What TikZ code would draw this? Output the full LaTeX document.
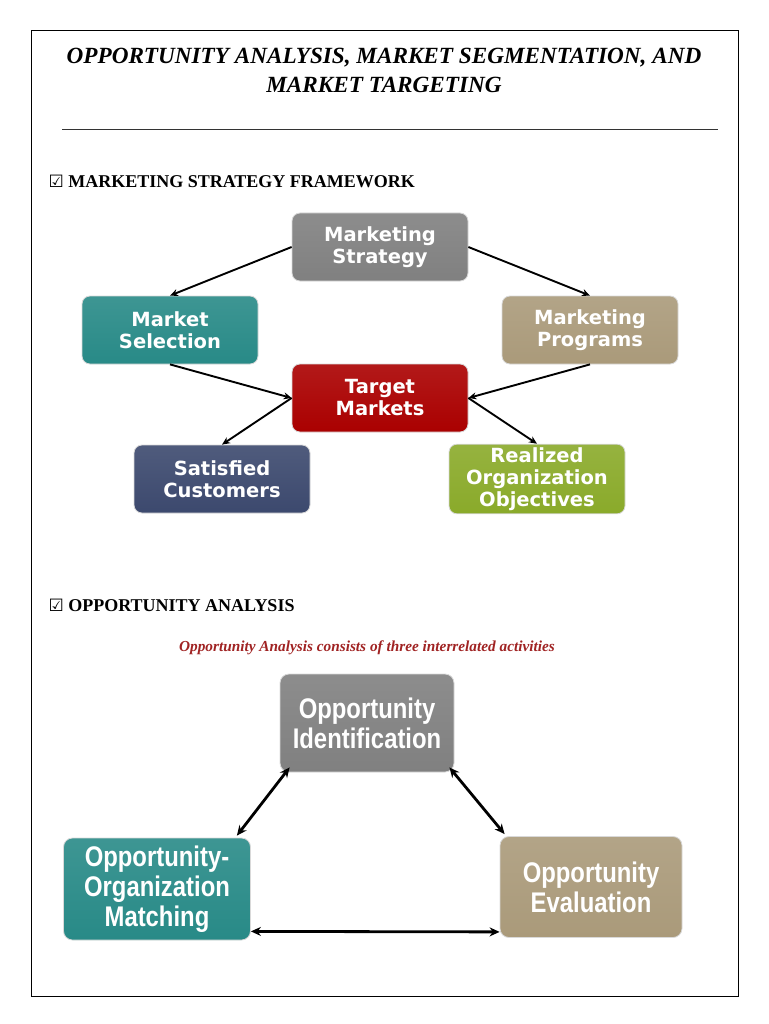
\documentclass[tikz,border=0pt]{standalone}
\usepackage{fontspec}
\setmainfont{Liberation Serif}
\newfontfamily\boxfont{DejaVu Sans}
\newfontfamily\symfont{DejaVu Sans}
\newfontfamily\narrowfont[FakeStretch=0.84]{Liberation Sans}
\usetikzlibrary{arrows.meta,positioning,calc}
\definecolor{msgray}{RGB}{128,128,128}
\definecolor{msteal}{RGB}{40,138,135}
\definecolor{mstan}{RGB}{170,154,122}
\definecolor{msred}{RGB}{170,0,0}
\definecolor{msnavy}{RGB}{60,73,110}
\definecolor{msgreen}{RGB}{138,170,42}
\definecolor{subred}{RGB}{160,35,35}

\begin{document}
\begin{tikzpicture}[x=1pt,y=-1pt,
    fbox/.style={rectangle, rounded corners=8pt, draw=black!15, line width=0.8pt,
      top color=#1!90!white, bottom color=#1, align=center, text=white,
      minimum width=176pt, minimum height=68pt,
      font=\boxfont\bfseries\fontsize{19.5}{22}\selectfont},
    obox/.style={rectangle, rounded corners=9pt, draw=black!15, line width=0.8pt,
      top color=#1!90!white, bottom color=#1, align=center, text=white,
      font=\narrowfont\bfseries\fontsize{28.4}{30}\selectfont},
    link/.style={-{Stealth[length=8pt,width=7pt]}, line width=1.9pt},
    twoway/.style={{Stealth[length=10pt,width=9pt]}-{Stealth[length=10pt,width=9pt]}, line width=2.8pt},
    secthead/.style={anchor=west, font=\bfseries\fontsize{18}{20}\selectfont}]
  \useasboundingbox (0,0) rectangle (768,1024);
  % page frame and heading
  \draw[line width=0.8pt] (31,30) rectangle (738,996);
  \node[align=center, font=\bfseries\itshape\fontsize{23.2}{29}\selectfont] (title) at (384,70)
    {OPPORTUNITY ANALYSIS, MARKET SEGMENTATION, AND\\MARKET TARGETING};
  \draw[line width=0.9pt, black!80] (62,129) -- (718,129);

  % marketing strategy framework
  \node[secthead] (head1) at (45,181) {{\symfont\fontsize{17}{18}\selectfont ☑}\ MARKETING STRATEGY FRAMEWORK};
  \node[fbox=msgray] (strat) at (380,247) {Marketing\\Strategy};
  \node[fbox=msteal] (sel) at (170,330) {Market\\Selection};
  \node[fbox=mstan] (prog) at (590,330) {Marketing\\Programs};
  \node[fbox=msred] (tgt) at (380,398) {Target\\Markets};
  \node[fbox=msnavy] (cust) at (222,479) {Satisfied\\Customers};
  \node[fbox=msgreen] (real) at (537,479) {Realized\\Organization\\Objectives};
  \draw[link] (strat.west) -- (sel.north);
  \draw[link] (strat.east) -- (prog.north);
  \draw[link] (sel.south) -- (tgt.west);
  \draw[link] (prog.south) -- (tgt.east);
  \draw[link] (tgt.west) -- (cust.north);
  \draw[link] (tgt.east) -- (real.north);

  % opportunity analysis
  \node[secthead] (head2) at (45,605) {{\symfont\fontsize{17}{18}\selectfont ☑}\ OPPORTUNITY ANALYSIS};
  \node[font=\bfseries\itshape\fontsize{15.3}{17}\selectfont, text=subred] (sub) at (367,648)
    {Opportunity Analysis consists of three interrelated activities};
  \node[obox=msgray, minimum width=174pt, minimum height=98pt] (ident) at (367,723) {Opportunity\\Identification};
  \node[obox=msteal, minimum width=187pt, minimum height=102pt] (match) at (157,889) {Opportunity-\\Organization\\Matching};
  \node[obox=mstan, minimum width=182pt, minimum height=101pt] (eval) at (591,887) {Opportunity\\Evaluation};
  \draw[twoway] ($(ident.south west)+(10,-5)$) -- ($(match.north east)+(-14,-2)$);
  \draw[twoway] ($(ident.south east)+(-5,-5)$) -- ($(eval.north west)+(5,-2)$);
  \draw[twoway] ($(match.south east)+(0,-9)$) -- ($(eval.south west)+(0,-6)$);
\end{tikzpicture}
\end{document}
